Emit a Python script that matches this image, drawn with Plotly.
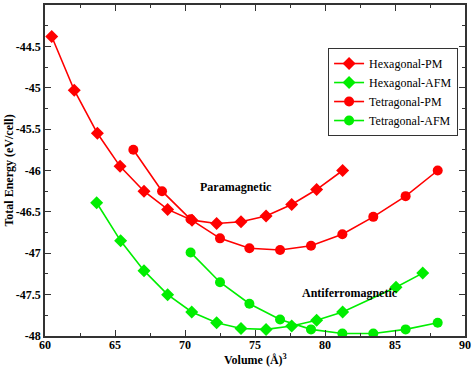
import plotly.graph_objects as go

hex_pm_x = [60.48, 62.09, 63.74, 65.36, 67.07, 68.76, 70.5, 72.26, 74.0, 75.79, 77.62, 79.4, 81.26]
hex_pm_y = [-44.38, -45.03, -45.55, -45.95, -46.25, -46.47, -46.6, -46.64, -46.62, -46.55, -46.41, -46.23, -46.0]

hex_afm_x = [63.69, 65.4, 67.07, 68.76, 70.48, 72.26, 74.0, 75.79, 77.62, 79.4, 81.26, 85.07, 86.98]
hex_afm_y = [-46.39, -46.85, -47.21, -47.5, -47.71, -47.84, -47.91, -47.92, -47.88, -47.81, -47.71, -47.41, -47.24]

tet_pm_x = [66.31, 68.36, 70.4, 72.5, 74.6, 76.79, 79.0, 81.24, 83.45, 85.76, 88.05]
tet_pm_y = [-45.75, -46.25, -46.59, -46.82, -46.94, -46.96, -46.91, -46.77, -46.56, -46.31, -46.0]

tet_afm_x = [70.4, 72.5, 74.6, 76.79, 79.0, 81.24, 83.45, 85.76, 88.05]
tet_afm_y = [-46.99, -47.35, -47.61, -47.80, -47.92, -47.97, -47.97, -47.92, -47.84]

x_tick_vals = [60, 65, 70, 75, 80, 85, 90]
x_tick_text = ["60", "65", "70", "75", "80", "85", "90"]
y_tick_vals = [-48, -47.5, -47, -46.5, -46, -45.5, -45, -44.5, -44]
y_tick_text = ["-48", "-47.5", "-47", "-46.5", "-46", "-45.5", "-45", "-44.5", "-44"]

RED = "#ff0000"
GREEN = "#00ee00"
FONT = "Liberation Serif"

fig = go.Figure()
series = [
    ("Hexagonal-PM", hex_pm_x, hex_pm_y, RED, "diamond", 10),
    ("Hexagonal-AFM", hex_afm_x, hex_afm_y, GREEN, "diamond", 10),
    ("Tetragonal-PM", tet_pm_x, tet_pm_y, RED, "circle", 10),
    ("Tetragonal-AFM", tet_afm_x, tet_afm_y, GREEN, "circle", 10),
]
for name, xs, ys, col, sym, sz in series:
    fig.add_trace(go.Scatter(
        x=xs, y=ys, name=name, mode="lines+markers",
        line=dict(color=col, width=1.6),
        marker=dict(color=col, symbol=sym, size=sz, line=dict(width=0)),
    ))

axis_common = dict(
    showline=True, linecolor="#333333", linewidth=1.5, mirror="ticks",
    ticks="inside", ticklen=6, tickwidth=1.2, tickcolor="#333333",
    showgrid=False, zeroline=False, automargin=False,
    tickfont=dict(family=FONT, size=12, color="black"),
)

fig.update_xaxes(
    range=[60, 90], tickvals=x_tick_vals, ticktext=["<b>%s</b>" % t for t in x_tick_text],
    minor=dict(dtick=2.5, tick0=60, ticks="inside", ticklen=3, tickcolor="#333333", tickwidth=1),
    ticklabelstandoff=-3,
    **axis_common,
)
fig.update_yaxes(
    range=[-48, -44], tickvals=y_tick_vals, ticktext=["<b>%s</b>" % t for t in y_tick_text],
    minor=dict(dtick=0.25, tick0=-48, ticks="inside", ticklen=3, tickcolor="#333333", tickwidth=1),
    **axis_common,
)

fig.add_annotation(x=0.5, y=-0.0725, xref="paper", yref="paper", yanchor="middle",
                   text="<b>Volume (Å)<sup>3</sup></b>", showarrow=False,
                   font=dict(family=FONT, size=12, color="black"))
fig.add_annotation(x=-0.088, y=0.5, xref="paper", yref="paper", xanchor="center",
                   text="<b>Total Energy (eV/cell)</b>", showarrow=False, textangle=-90,
                   font=dict(family=FONT, size=12, color="black"))

fig.add_annotation(x=73.64, y=-46.2, text="<b>Paramagnetic</b>", showarrow=False,
                   font=dict(family=FONT, size=12, color="black"))
fig.add_annotation(x=81.8, y=-47.48, text="<b>Antiferromagnetic</b>", showarrow=False,
                   font=dict(family=FONT, size=12, color="black"))

fig.update_layout(
    width=474, height=368,
    font=dict(family=FONT, color="black"),
    margin=dict(l=45, r=9, t=5, b=32, autoexpand=False),
    paper_bgcolor="white", plot_bgcolor="white",
    showlegend=True,
    legend=dict(
        x=0.674, y=0.87, xanchor="left", yanchor="top",
        bgcolor="white", bordercolor="#333333", borderwidth=1,
        font=dict(family=FONT, size=12, color="black"),
        itemwidth=30, tracegroupgap=0,
    ),
)

fig.write_html(
    "out.html",
    config={"displayModeBar": False},
    post_script="document.body.style.margin='0';document.body.style.padding='0';",
)
